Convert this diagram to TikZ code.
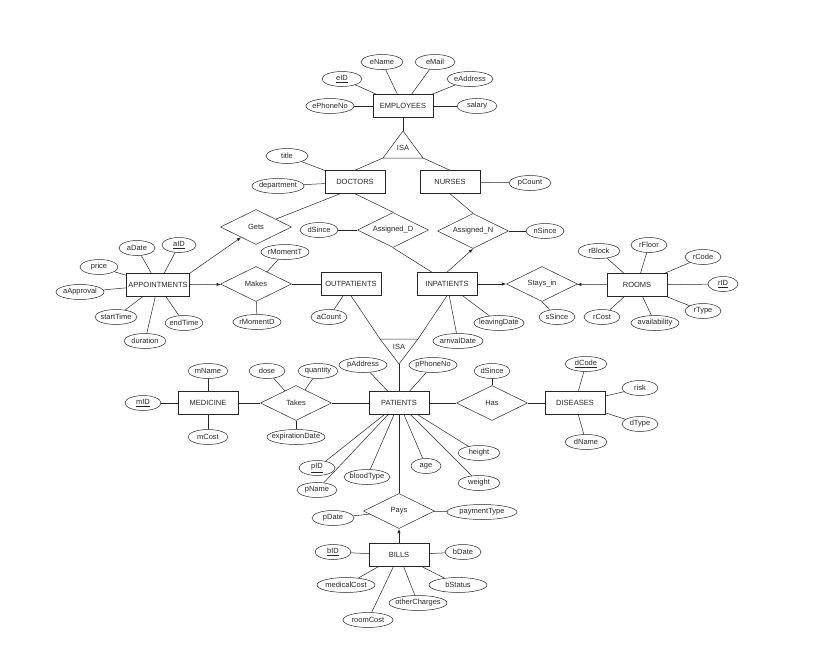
\documentclass[tikz,border=0pt]{standalone}
\usepackage{fontspec}
\setmainfont{Liberation Sans}
\usetikzlibrary{arrows,shapes.geometric}
\newbox\erlabel
\tikzset{
fixed/.style={execute at begin node={\setbox\erlabel=\hbox\bgroup},
  execute at end node={\egroup\makebox[0pt]{\box\erlabel}}},
entity/.style={draw,rectangle,minimum width=60pt,minimum height=23pt,inner xsep=2pt},
attr/.style={draw,ellipse,fixed,minimum width=#1,minimum height=15pt,inner sep=0pt},
attr/.default=40pt,
rel/.style={draw,diamond,fixed,minimum width=71pt,minimum height=35pt,inner sep=0pt},
}

\begin{document}
\begin{tikzpicture}[x=1pt,y=-1pt,line width=0.5pt,color=black!85,
  every node/.style={font=\fontsize{7.5}{9}\selectfont}]
\useasboundingbox (0,0) rectangle (823,664);

\node[entity] (EMPLOYEES) at (403,106) {EMPLOYEES};
\node[entity] (DOCTORS) at (355,182) {DOCTORS};
\node[entity] (NURSES) at (450,182) {NURSES};
\node[entity,minimum width=63pt] (APPOINTMENTS) at (158,285) {APPOINTMENTS};
\node[entity] (OUTPATIENTS) at (351,284) {OUTPATIENTS};
\node[entity] (INPATIENTS) at (447,284) {INPATIENTS};
\node[entity] (ROOMS) at (637,285) {ROOMS};
\node[entity] (MEDICINE) at (208,403) {MEDICINE};
\node[entity] (PATIENTS) at (399,403) {PATIENTS};
\node[entity] (DISEASES) at (575,403) {DISEASES};
\node[entity] (BILLS) at (399,555) {BILLS};

\node[rel] (Gets) at (256,227) {Gets};
\node[rel] (AssignedD) at (393,230) {Assigned\_D};
\node[rel] (AssignedN) at (473,231) {Assigned\_N};
\node[rel] (Makes) at (256,284) {Makes};
\node[rel] (StaysIn) at (542,284) {Stays\_in};
\node[rel] (Takes) at (296,403) {Takes};
\node[rel] (Has) at (492,403) {Has};
\node[rel] (Pays) at (399,511) {Pays};

\coordinate (isaEtop) at (403,131);
\coordinate (isaEleft) at (383,158);
\coordinate (isaEright) at (423,158);
\draw (isaEtop) -- (isaEleft) -- (isaEright) -- cycle;
\node (isaE) at (403,148) {ISA};
\coordinate (isaPleft) at (380,339);
\coordinate (isaPright) at (418,339);
\coordinate (isaPbottom) at (399,364);
\draw (isaPleft) -- (isaPright) -- (isaPbottom) -- cycle;
\node (isaP) at (399,347) {ISA};

\node[attr=42pt] (eName) at (382,62) {eName};
\node[attr] (eMail) at (435,62) {eMail};
\node[attr] (eID) at (342,79) {\underline{eID}};
\node[attr=46pt] (eAddress) at (470,79) {eAddress};
\node[attr=48pt] (ePhoneNo) at (330,106) {ePhoneNo};
\node[attr] (salary) at (477,106) {salary};
\node[attr=42pt] (title) at (287,156) {title};
\node[attr=52pt] (department) at (278,186) {department};
\node[attr=42pt] (pCount) at (530,183) {pCount};
\node[attr=38pt] (dSinceD) at (319,230) {dSince};
\node[attr=38pt] (nSince) at (545,231) {nSince};

\node[attr=36pt] (aDate) at (137,248) {aDate};
\node[attr=34pt] (aID) at (179,245) {\underline{aID}};
\node[attr=38pt] (price) at (99,267) {price};
\node[attr=48pt] (aApproval) at (80,292) {aApproval};
\node[attr=42pt] (startTime) at (116,317) {startTime};
\node[attr=42pt] (duration) at (145,341) {duration};
\node[attr=38pt] (endTime) at (184,323) {endTime};
\node[attr=48pt] (rMomentT) at (285,252) {rMomentT};
\node[attr=48pt] (rMomentD) at (257,322) {rMomentD};
\node[attr=36pt] (aCount) at (329,317) {aCount};
\node[attr=50pt] (arrivalDate) at (458,341) {arrivalDate};
\node[attr=50pt] (leavingDate) at (499,323) {leavingDate};
\node[attr=36pt] (sSince) at (557,317) {sSince};

\node[attr=42pt] (rBlock) at (599,251) {rBlock};
\node[attr=36pt] (rFloor) at (649,245) {rFloor};
\node[attr=36pt] (rCode) at (703,257) {rCode};
\node[attr=30pt] (rID) at (723,284) {\underline{rID}};
\node[attr=36pt] (rType) at (703,311) {rType};
\node[attr=48pt] (availability) at (655,323) {availability};
\node[attr=36pt] (rCost) at (602,317) {rCost};

\node[attr] (mName) at (208,371) {mName};
\node[attr] (mCost) at (208,437) {mCost};
\node[attr=36pt] (mID) at (143,403) {\underline{mID}};
\node[attr=36pt] (dose) at (267,371) {dose};
\node[attr] (quantity) at (318,371) {quantity};
\node[attr=58pt] (expirationDate) at (296,437) {expirationDate};

\node[attr=48pt] (pAddress) at (363,365) {pAddress};
\node[attr=48pt] (pPhoneNo) at (433,365) {pPhoneNo};
\node[attr=36pt] (pID) at (317,468) {\underline{pID}};
\node[attr] (pName) at (317,490) {pName};
\node[attr=46pt] (bloodType) at (367,477) {bloodType};
\node[attr=30pt] (age) at (426,466) {age};
\node[attr=42pt] (height) at (479,453) {height};
\node[attr=42pt] (weight) at (479,483) {weight};

\node[attr=36pt] (dSinceH) at (492,371) {dSince};
\node[attr=42pt] (dCode) at (586,364) {\underline{dCode}};
\node[attr=36pt] (risk) at (640,388) {risk};
\node[attr=36pt] (dType) at (640,424) {dType};
\node[attr=42pt] (dName) at (586,442) {dName};

\node[attr=42pt] (pDate) at (333,518) {pDate};
\node[attr=70pt] (paymentType) at (482,512) {paymentType};
\node[attr=36pt] (bID) at (333,552) {\underline{bID}};
\node[attr=36pt] (bDate) at (463,552) {bDate};
\node[attr=58pt] (medicalCost) at (346,585) {medicalCost};
\node[attr=50pt] (roomCost) at (368,620) {roomCost};
\node[attr=58pt] (otherCharges) at (418,603) {otherCharges};
\node[attr=58pt] (bStatus) at (458,585) {bStatus};

\foreach \a in {eName,eMail,eID,eAddress,ePhoneNo,salary}
  \draw (\a) -- (EMPLOYEES);
\draw (EMPLOYEES.south) -- (isaEtop);
\draw (isaEleft) -- (DOCTORS.north);
\draw (isaEright) -- (NURSES.north);
\draw (title) -- (DOCTORS);
\draw (department) -- (DOCTORS);
\draw (NURSES) -- (pCount);
\draw (Gets) -- ([xshift=-15pt]DOCTORS.south);
\draw (DOCTORS.south) -- (AssignedD.north);
\draw (AssignedD.south) -- ([xshift=-15pt]INPATIENTS.north);
\draw (dSinceD) -- (AssignedD);
\draw (NURSES.south) -- (AssignedN.north);
\draw[-latex] (INPATIENTS.north) -- (AssignedN.south);
\draw (AssignedN) -- (nSince);

\foreach \a in {aDate,aID,price,aApproval,startTime,duration,endTime}
  \draw (\a) -- (APPOINTMENTS);
\draw[-latex] (APPOINTMENTS.north east) -- (Gets);
\draw[-latex] (APPOINTMENTS) -- (Makes);
\draw (Makes) -- (OUTPATIENTS);
\draw (rMomentT) -- (Makes);
\draw (rMomentD) -- (Makes);
\draw (aCount) -- (OUTPATIENTS);
\draw (OUTPATIENTS.south) -- (isaPleft);
\draw (INPATIENTS.south) -- (isaPright);
\draw (isaPbottom) -- (PATIENTS.north);
\draw (arrivalDate) -- (INPATIENTS);
\draw (leavingDate) -- (INPATIENTS);
\draw[-latex] (INPATIENTS) -- (StaysIn);
\draw[-latex] (ROOMS) -- (StaysIn);
\draw (StaysIn.south) -- (sSince);
\foreach \a in {rBlock,rFloor,rCode,rID,rType,availability,rCost}
  \draw (\a) -- (ROOMS);

\foreach \a in {mName,mCost,mID}
  \draw (\a) -- (MEDICINE);
\draw (MEDICINE) -- (Takes) -- (PATIENTS);
\foreach \a in {dose,quantity,expirationDate}
  \draw (\a) -- (Takes);
\foreach \a in {pAddress,pPhoneNo,pID,pName,bloodType,age,height,weight}
  \draw (\a) -- (PATIENTS);
\draw (PATIENTS) -- (Has) -- (DISEASES);
\draw (dSinceH) -- (Has);
\foreach \a in {dCode,risk,dType,dName}
  \draw (\a) -- (DISEASES);

\draw (PATIENTS) -- (Pays);
\draw[-latex] (BILLS) -- (Pays);
\draw (pDate) -- (Pays);
\draw (Pays) -- (paymentType);
\foreach \a in {bID,bDate,medicalCost,roomCost,otherCharges,bStatus}
  \draw (\a) -- (BILLS);
\end{tikzpicture}
\end{document}
